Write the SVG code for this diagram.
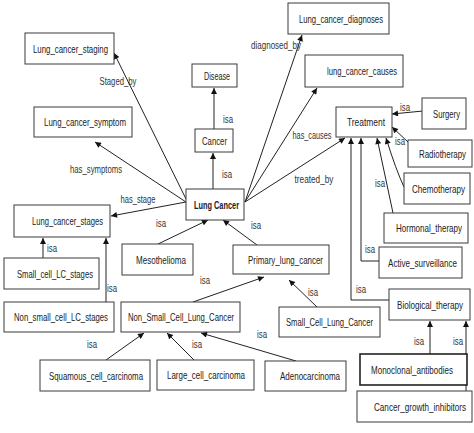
<svg xmlns="http://www.w3.org/2000/svg" width="474" height="433" viewBox="0 0 474 433">
<style>
.b{fill:#fff;stroke:#3a3a3a;stroke-width:1}
.t{font-family:"Liberation Sans",Arial,sans-serif;font-size:11px;fill:#222;text-anchor:middle}
.bold{font-weight:bold}
.l{font-family:"Liberation Sans",Arial,sans-serif;font-size:10.5px;fill:#333;text-anchor:middle}
.c{fill:none;stroke:#222;stroke-width:1;marker-end:url(#ah)}
</style>
<defs>
<marker id="ah" viewBox="0 0 10 10" refX="10" refY="5" markerWidth="7" markerHeight="6" markerUnits="userSpaceOnUse" orient="auto">
<path d="M0,0 L10,5 L0,10 z" fill="#111"/>
</marker>
</defs>
<rect width="474" height="433" fill="#fff"/>
<g id="connectors">
<line class="c" x1="187" y1="201" x2="114" y2="53"/>
<line class="c" x1="186" y1="202" x2="95" y2="142"/>
<line class="c" x1="186" y1="202" x2="111" y2="216"/>
<line class="c" x1="245" y1="202" x2="302" y2="35"/>
<line class="c" x1="245" y1="202" x2="317" y2="88"/>
<line class="c" x1="245" y1="202" x2="345" y2="138"/>
<line class="c" x1="214" y1="129" x2="214" y2="88"/>
<line class="c" x1="213" y1="189" x2="213" y2="153"/>
<line class="c" x1="158" y1="244" x2="208" y2="220"/>
<line class="c" x1="257" y1="245" x2="223" y2="220"/>
<line class="c" x1="193" y1="302" x2="264" y2="277"/>
<line class="c" x1="317" y1="307" x2="289" y2="280"/>
<line class="c" x1="106" y1="360" x2="144" y2="333"/>
<line class="c" x1="194" y1="360" x2="167" y2="333"/>
<line class="c" x1="296" y1="361" x2="201" y2="333"/>
<line class="c" x1="43" y1="258" x2="43" y2="238"/>
<line class="c" x1="106" y1="302" x2="106" y2="238"/>
<line class="c" x1="423" y1="111" x2="392" y2="114"/>
<line class="c" x1="408" y1="142" x2="392" y2="127"/>
<path class="c" d="M404,187 Q396,170 386,138"/>
<line class="c" x1="393" y1="213" x2="377" y2="138"/>
<polyline class="c" points="379,261 361,261 361,138"/>
<polyline class="c" points="389,300 351,300 351,138"/>
<line class="c" x1="430" y1="354" x2="430" y2="321"/>
<line class="c" x1="466" y1="391" x2="466" y2="321"/>
<text class="l" x="118" y="85" textLength="37" lengthAdjust="spacingAndGlyphs">Staged_by</text>
<text class="l" x="228" y="123" textLength="10" lengthAdjust="spacingAndGlyphs">isa</text>
<text class="l" x="96" y="173" textLength="52" lengthAdjust="spacingAndGlyphs">has_symptoms</text>
<text class="l" x="138" y="203" textLength="35" lengthAdjust="spacingAndGlyphs">has_stage</text>
<text class="l" x="227" y="178" textLength="10" lengthAdjust="spacingAndGlyphs">isa</text>
<text class="l" x="161" y="227" textLength="10" lengthAdjust="spacingAndGlyphs">isa</text>
<text class="l" x="256" y="229" textLength="10" lengthAdjust="spacingAndGlyphs">isa</text>
<text class="l" x="276" y="49" textLength="50" lengthAdjust="spacingAndGlyphs">diagnosed_by</text>
<text class="l" x="312" y="139" textLength="39" lengthAdjust="spacingAndGlyphs">has_causes</text>
<text class="l" x="314" y="183" textLength="39" lengthAdjust="spacingAndGlyphs">treated_by</text>
<text class="l" x="405" y="111" textLength="10" lengthAdjust="spacingAndGlyphs">isa</text>
<text class="l" x="400" y="145" textLength="10" lengthAdjust="spacingAndGlyphs">isa</text>
<text class="l" x="380" y="187" textLength="10" lengthAdjust="spacingAndGlyphs">isa</text>
<text class="l" x="370" y="253" textLength="10" lengthAdjust="spacingAndGlyphs">isa</text>
<text class="l" x="361" y="293" textLength="10" lengthAdjust="spacingAndGlyphs">isa</text>
<text class="l" x="419" y="345" textLength="10" lengthAdjust="spacingAndGlyphs">isa</text>
<text class="l" x="458" y="345" textLength="10" lengthAdjust="spacingAndGlyphs">isa</text>
<text class="l" x="313" y="296" textLength="10" lengthAdjust="spacingAndGlyphs">isa</text>
<text class="l" x="262" y="338" textLength="10" lengthAdjust="spacingAndGlyphs">isa</text>
<text class="l" x="205" y="284" textLength="10" lengthAdjust="spacingAndGlyphs">isa</text>
<text class="l" x="52" y="252" textLength="10" lengthAdjust="spacingAndGlyphs">isa</text>
<text class="l" x="112" y="292" textLength="10" lengthAdjust="spacingAndGlyphs">isa</text>
<text class="l" x="92" y="348" textLength="10" lengthAdjust="spacingAndGlyphs">isa</text>
<text class="l" x="197" y="348" textLength="10" lengthAdjust="spacingAndGlyphs">isa</text>
</g>
<g id="lung_cancer_staging"><rect class="b" x="25" y="33" width="89" height="31"/><text class="t" x="70.5" y="52.5" textLength="75" lengthAdjust="spacingAndGlyphs">Lung_cancer_staging</text></g>
<g id="disease"><rect class="b" x="192" y="64" width="45" height="23"/><text class="t" x="217" y="79.5" textLength="26" lengthAdjust="spacingAndGlyphs">Disease</text></g>
<g id="lung_cancer_symptom"><rect class="b" x="34" y="107" width="98" height="30"/><text class="t" x="85" y="126" textLength="82" lengthAdjust="spacingAndGlyphs">Lung_cancer_symptom</text></g>
<g id="cancer"><rect class="b" x="195" y="129" width="38" height="23"/><text class="t" x="214.5" y="144.5" textLength="25" lengthAdjust="spacingAndGlyphs">Cancer</text></g>
<g id="lung_cancer"><rect class="b" x="186" y="189" width="58" height="31"/><text class="t bold" x="216.5" y="208.5" textLength="45" lengthAdjust="spacingAndGlyphs">Lung Cancer</text></g>
<g id="lung_cancer_diagnoses"><rect class="b" x="288" y="3" width="101" height="31"/><text class="t" x="341" y="22.5" textLength="84" lengthAdjust="spacingAndGlyphs">Lung_cancer_diagnoses</text></g>
<g id="lung_cancer_causes"><rect class="b" x="305" y="55" width="98" height="32"/><text class="t" x="362" y="74.5" textLength="70" lengthAdjust="spacingAndGlyphs">lung_cancer_causes</text></g>
<g id="treatment"><rect class="b" x="336" y="107" width="56" height="30"/><text class="t" x="366" y="126" textLength="38" lengthAdjust="spacingAndGlyphs">Treatment</text></g>
<g id="surgery"><rect class="b" x="422" y="98" width="44" height="31"/><text class="t" x="446.5" y="117.5" textLength="27" lengthAdjust="spacingAndGlyphs">Surgery</text></g>
<g id="radiotherapy"><rect class="b" x="408" y="140" width="64" height="27"/><text class="t" x="442.5" y="157.5" textLength="47" lengthAdjust="spacingAndGlyphs">Radiotherapy</text></g>
<g id="chemotherapy"><rect class="b" x="404" y="173" width="66" height="31"/><text class="t" x="438.5" y="192.5" textLength="53" lengthAdjust="spacingAndGlyphs">Chemotherapy</text></g>
<g id="hormonal_therapy"><rect class="b" x="384" y="213" width="84" height="30"/><text class="t" x="429" y="232" textLength="66" lengthAdjust="spacingAndGlyphs">Hormonal_therapy</text></g>
<g id="active_surveillance"><rect class="b" x="379" y="247" width="83" height="31"/><text class="t" x="422.5" y="266.5" textLength="69" lengthAdjust="spacingAndGlyphs">Active_surveillance</text></g>
<g id="biological_therapy"><rect class="b" x="389" y="289" width="81" height="31"/><text class="t" x="430" y="308.5" textLength="66" lengthAdjust="spacingAndGlyphs">Biological_therapy</text></g>
<g id="monoclonal_antibodies"><rect class="b" x="360" y="354" width="107" height="31" style="stroke-width:1.6;stroke:#222"/><text class="t" x="412" y="373.5" textLength="82" lengthAdjust="spacingAndGlyphs">Monoclonal_antibodies</text></g>
<g id="cancer_growth_inhibitors"><rect class="b" x="357" y="391" width="115" height="31"/><text class="t" x="420" y="410.5" textLength="92" lengthAdjust="spacingAndGlyphs">Cancer_growth_inhibitors</text></g>
<g id="small_cell_lung_cancer"><rect class="b" x="279" y="307" width="101" height="30"/><text class="t" x="329.5" y="326" textLength="87" lengthAdjust="spacingAndGlyphs">Small_Cell_Lung_Cancer</text></g>
<g id="adenocarcinoma"><rect class="b" x="265" y="361" width="81" height="30"/><text class="t" x="310" y="380" textLength="60" lengthAdjust="spacingAndGlyphs">Adenocarcinoma</text></g>
<g id="squamous_cell_carcinoma"><rect class="b" x="40" y="360" width="110" height="31"/><text class="t" x="96" y="379.5" textLength="94" lengthAdjust="spacingAndGlyphs">Squamous_cell_carcinoma</text></g>
<g id="large_cell_carcinoma"><rect class="b" x="157" y="360" width="97" height="30"/><text class="t" x="206" y="379" textLength="78" lengthAdjust="spacingAndGlyphs">Large_cell_carcinoma</text></g>
<g id="non_small_cell_lung_cancer"><rect class="b" x="121" y="302" width="119" height="30"/><text class="t" x="181" y="321" textLength="106" lengthAdjust="spacingAndGlyphs">Non_Small_Cell_Lung_Cancer</text></g>
<g id="non_small_cell_lc_stages"><rect class="b" x="4" y="302" width="110" height="30"/><text class="t" x="61" y="321" textLength="94" lengthAdjust="spacingAndGlyphs">Non_small_cell_LC_stages</text></g>
<g id="lung_cancer_stages"><rect class="b" x="14" y="205" width="96" height="32"/><text class="t" x="67.5" y="225" textLength="71" lengthAdjust="spacingAndGlyphs">Lung_cancer_stages</text></g>
<g id="small_cell_lc_stages"><rect class="b" x="4" y="258" width="95" height="31"/><text class="t" x="55" y="277.5" textLength="76" lengthAdjust="spacingAndGlyphs">Small_cell_LC_stages</text></g>
<g id="mesothelioma"><rect class="b" x="122" y="244" width="71" height="31"/><text class="t" x="161" y="263.5" textLength="50" lengthAdjust="spacingAndGlyphs">Mesothelioma</text></g>
<g id="primary_lung_cancer"><rect class="b" x="233" y="245" width="96" height="29"/><text class="t" x="285.5" y="263.5" textLength="75" lengthAdjust="spacingAndGlyphs">Primary_lung_cancer</text></g>
</svg>
